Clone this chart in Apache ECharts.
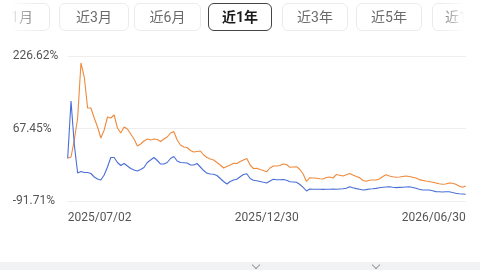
<!DOCTYPE html>
<html>
<head>
<meta charset="utf-8">
<script src="https://cdn.jsdelivr.net/npm/echarts@6/dist/echarts.min.js"></script>
<style>
  html, body { margin:0; padding:0; width:480px; height:270px; background:#fff; overflow:hidden; font-family: Roboto, "Noto Sans CJK SC", sans-serif; }
  #tabs { position:absolute; left:0; top:0; width:480px; height:36px; }
  .tab { position:absolute; top:3px; height:26px; border:1px solid #ebebeb; border-radius:6px; box-sizing:content-box;
         font-size:14px; line-height:26px; color:#6a6a6a; text-align:center; }
  .tab.sel { border:1.3px solid #444; color:#1a1a1a; font-weight:bold; }
  #fadeL { position:absolute; left:0; top:0; width:40px; height:34px; background:linear-gradient(to right, #fff, #fff 30%, rgba(255,255,255,0.6) 45%, rgba(255,255,255,0)); }
  #fadeR { position:absolute; left:440px; top:0; width:40px; height:34px; background:linear-gradient(to right, rgba(255,255,255,0), rgba(255,255,255,0.5) 35%, rgba(255,255,255,0.8) 50%, #fff 60%, #fff); }
  #chart { position:absolute; left:0; top:0; width:480px; height:270px; }
  #bottom { position:absolute; left:0; top:262px; width:480px; height:8px; background:#f1f2f4; }
  .chev { position:absolute; top:262px; width:5px; height:5px; border-right:1px solid #999; border-bottom:1px solid #999; transform:rotate(45deg); }
</style>
</head>
<body>
<div id="chart"></div>
<div id="tabs">
  <div class="tab" style="left:-20px;width:68px;">近1月</div>
  <div class="tab" style="left:59px;width:68px;">近3月</div>
  <div class="tab" style="left:134px;width:65px;">近6月</div>
  <div class="tab sel" style="left:208px;width:62px;">近1年</div>
  <div class="tab" style="left:282px;width:64px;">近3年</div>
  <div class="tab" style="left:356px;width:64px;">近5年</div>
  <div class="tab" style="left:432px;width:64px;text-align:left;text-indent:12px;">近10年</div>
  <div id="fadeL"></div>
  <div id="fadeR"></div>
</div>
<div id="bottom"></div>
<div class="chev" style="left:253px;"></div>
<div class="chev" style="left:373px;"></div>
<script>
const categories = [
 '2025/07/02','2025/07/05','2025/07/08','2025/07/11','2025/07/14','2025/07/17','2025/07/20','2025/07/23','2025/07/26','2025/07/29',
 '2025/08/01','2025/08/04','2025/08/07','2025/08/10','2025/08/13','2025/08/16','2025/08/19','2025/08/22','2025/08/25','2025/08/28',
 '2025/08/31','2025/09/03','2025/09/06','2025/09/09','2025/09/12','2025/09/15','2025/09/18','2025/09/21','2025/09/24','2025/09/27',
 '2025/09/30','2025/10/03','2025/10/06','2025/10/09','2025/10/12','2025/10/15','2025/10/18','2025/10/21','2025/10/24','2025/10/27',
 '2025/10/30','2025/11/02','2025/11/05','2025/11/08','2025/11/11','2025/11/14','2025/11/17','2025/11/20','2025/11/23','2025/11/26',
 '2025/11/29','2025/12/02','2025/12/05','2025/12/08','2025/12/11','2025/12/14','2025/12/17','2025/12/20','2025/12/23','2025/12/26',
 '2025/12/30','2026/01/02','2026/01/05','2026/01/08','2026/01/11','2026/01/14','2026/01/17','2026/01/20','2026/01/23','2026/01/26',
 '2026/01/29','2026/02/01','2026/02/04','2026/02/07','2026/02/10','2026/02/13','2026/02/16','2026/02/19','2026/02/22','2026/02/25',
 '2026/02/28','2026/03/03','2026/03/06','2026/03/09','2026/03/12','2026/03/15','2026/03/18','2026/03/21','2026/03/24','2026/03/27',
 '2026/03/30','2026/04/02','2026/04/05','2026/04/08','2026/04/11','2026/04/14','2026/04/17','2026/04/20','2026/04/23','2026/04/26',
 '2026/04/29','2026/05/02','2026/05/05','2026/05/08','2026/05/11','2026/05/14','2026/05/17','2026/05/20','2026/05/23','2026/05/26',
 '2026/05/29','2026/06/01','2026/06/04','2026/06/07','2026/06/10','2026/06/13','2026/06/16','2026/06/19','2026/06/22','2026/06/27',
 '2026/06/30'
];

const orangeSeries = [
 2.03, 4.88, 42.2, 90.5, 211.25, 180.5, 112.5, 112.5, 90.5, 70.74,
 46.6, 64.16, 92.7, 90.5, 97.1, 68.55, 57.57, 70.74, 66.35, 55.38,
 44.4, 29.03, 33.42, 40.0, 44.4, 42.2, 44.4, 43.3, 38.9, 44.4,
 48.8, 57.6, 60.86, 42.2, 31.23, 26.84, 25.74, 19.15, 15.86, 16.96,
 18.06, 9.27, 3.78, 0.49, -1.7, -7.19, -12.68, -19.27, -15.97, -12.68,
 -8.95, -9.39, -5.0, -1.7, 1.6, -12.68, -20.36, -19.93, -22.56, -24.76,
 -27.39, -19.27, -14.88, -14.88, -13.78, -10.49, -11.58, -17.73, -17.07, -16.41,
 -22.56, -32.44, -48.9, -40.56, -41.22, -41.88, -42.76, -43.42, -40.12, -39.02,
 -41.22, -33.54, -35.08, -36.84, -34.2, -31.13, -34.64, -37.93, -40.35, -46.72,
 -48.26, -46.06, -45.62, -45.62, -43.42, -37.93, -34.2, -36.84, -38.6, -39.48,
 -39.04, -37.93, -36.84, -37.93, -39.48, -41.22, -44.73, -46.49, -47.81, -48.91,
 -50.45, -52.2, -53.96, -54.84, -54.4, -52.2, -52.86, -55.06, -58.79, -61.64,
 -58.79
];

const blueSeries = [
 2.03, 127.82, 31.23, -30.24, -26.95, -29.15, -29.15, -31.34, -39.02, -43.42,
 -45.62, -34.64, -17.07, 3.78, 3.78, -7.19, -13.78, -9.39, -14.88, -20.37,
 -23.66, -25.86, -22.56, -18.17, -7.19, -1.7, 3.78, -2.8, -10.49, -10.49,
 -7.19, 1.6, 5.99, -3.9, -7.19, -7.63, -8.29, -12.68, -12.68, -9.39,
 -17.07, -24.76, -30.9, -32.44, -33.1, -35.74, -42.32, -48.91, -54.4, -48.91,
 -45.62, -43.86, -38.38, -33.54, -32.0, -42.32, -46.06, -47.15, -48.91, -50.67,
 -52.2, -47.81, -44.08, -45.18, -45.18, -44.52, -46.28, -49.35, -50.01, -50.67,
 -55.5, -61.64, -69.77, -65.38, -65.82, -66.04, -66.04, -66.26, -66.04, -65.82,
 -65.38, -66.04, -65.38, -64.94, -63.84, -60.55, -62.74, -64.5, -66.04, -67.58,
 -66.7, -65.38, -64.94, -64.06, -62.74, -61.64, -60.98, -60.32, -61.42, -62.3,
 -61.86, -61.64, -60.98, -60.55, -62.08, -63.62, -65.82, -67.58, -67.58, -67.58,
 -69.33, -71.09, -71.53, -71.97, -71.53, -71.31, -73.07, -74.82, -75.7, -76.36,
 -77.02
];

const yTicks = [-91.71, 67.45, 226.62];
const xLabelIdx = [0, 60, 120];

const chart = echarts.init(document.getElementById('chart'), null, {renderer:'canvas'});
chart.setOption({
  animation: false,
  grid: { left: 67.7, right: 14.3, top: 56, bottom: 69, containLabel: false },
  xAxis: {
    type: 'category',
    data: categories,
    boundaryGap: false,
    axisLine: { show: false },
    axisTick: { show: false },
    splitLine: { show: false },
    axisLabel: {
      interval: (idx) => xLabelIdx.indexOf(idx) >= 0,
      alignMinLabel: 'left',
      alignMaxLabel: 'right',
      margin: 11,
      fontSize: 12,
      color: '#555',
      fontFamily: 'Roboto, "Noto Sans", sans-serif'
    }
  },
  yAxis: {
    type: 'value',
    min: yTicks[0],
    max: yTicks[2],
    axisLine: { show: false },
    axisTick: { show: false, customValues: yTicks },
    splitLine: { show: true, lineStyle: { color: '#eeeeee', width: 1 } },
    axisLabel: {
      customValues: yTicks,
      formatter: (v) => v.toFixed(2) + '%',
      align: 'left',
      margin: 55,
      fontSize: 12,
      color: '#555',
      fontFamily: 'Roboto, "Noto Sans", sans-serif'
    }
  },
  series: [
    { type: 'line', data: orangeSeries, showSymbol: false, symbol: 'none', lineStyle: { color: '#EE8A3C', width: 1.1 }, z: 2 },
    { type: 'line', data: blueSeries, showSymbol: false, symbol: 'none', lineStyle: { color: '#4A6ED8', width: 1.1 }, z: 3 }
  ]
});
</script>
</body>
</html>
